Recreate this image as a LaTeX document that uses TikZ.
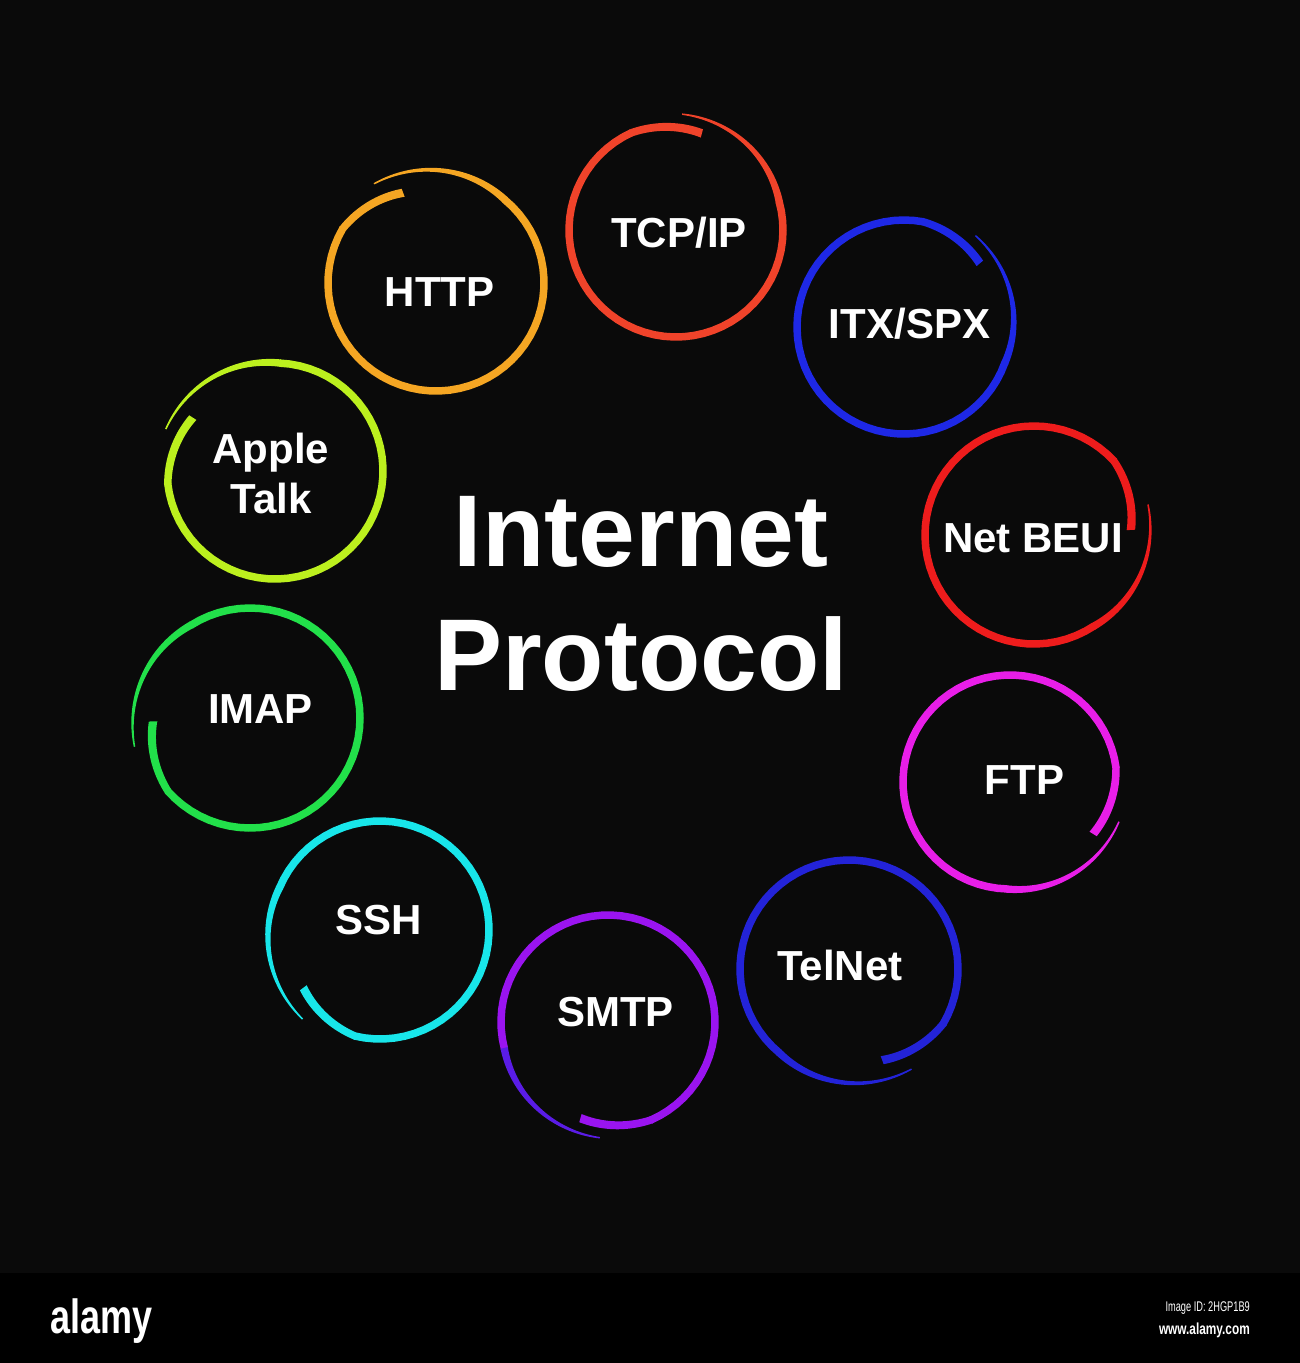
\documentclass[tikz,border=0pt]{standalone}
\usepackage{fontspec}
\setmainfont{Liberation Sans}
\usepackage{graphicx}
\definecolor{bgcol}{HTML}{0A0A0A}
\definecolor{cTCP}{HTML}{F0432A}
\definecolor{cITX}{HTML}{1E28E6}
\definecolor{cNET}{HTML}{EE1C1C}
\definecolor{cFTP}{HTML}{E81EE8}
\definecolor{cTEL}{HTML}{2323D8}
\definecolor{cSMTP}{HTML}{9A14F0}
\definecolor{cSMTPt}{HTML}{5A1CE6}
\definecolor{cSSH}{HTML}{18E6EA}
\definecolor{cIMAP}{HTML}{22E04A}
\definecolor{cAPP}{HTML}{BCF01E}
\definecolor{cHTTP}{HTML}{F5A623}
% filled brush segment: cx, cy, r0, r1, w0, w1, a0, a1, colour
\newcommand\brushseg[9]{%
  \fill[#9] plot[variable=\t,domain=#7:#8,samples=50]
    ({#1+(#3+(#4-#3)*(\t-(#7))/((#8)-(#7))+(#5+(#6-#5)*(\t-(#7))/((#8)-(#7)))/2)*cos(\t)},
     {-#2+(#3+(#4-#3)*(\t-(#7))/((#8)-(#7))+(#5+(#6-#5)*(\t-(#7))/((#8)-(#7)))/2)*sin(\t)})
    -- plot[variable=\t,domain=#8:#7,samples=50]
    ({#1+(#3+(#4-#3)*(\t-(#7))/((#8)-(#7))-(#5+(#6-#5)*(\t-(#7))/((#8)-(#7)))/2)*cos(\t)},
     {-#2+(#3+(#4-#3)*(\t-(#7))/((#8)-(#7))-(#5+(#6-#5)*(\t-(#7))/((#8)-(#7)))/2)*sin(\t)})
    -- cycle;}
% hand-drawn ring: cx, cy, start angle, start radius, radius, colour, tail colour
\newcommand\ringstroke[7]{%
  \pgfmathsetmacro\rsA{#3}%
  \pgfmathsetmacro\rsB{#3+40}%
  \pgfmathsetmacro\rsC{#3+300}%
  \pgfmathsetmacro\rsD{#3+372}%
  \pgfmathsetmacro\rsT{#5+9}%
  \brushseg{#1}{#2}{#4}{#5}{8.5}{7.5}{\rsA}{\rsB}{#6}%
  \brushseg{#1}{#2}{#5}{#5}{7.5}{7.5}{\rsB-0.5}{\rsC+0.5}{#6}%
  \brushseg{#1}{#2}{#5}{\rsT}{7.5}{1.5}{\rsC}{\rsD}{#7}%
}
\begin{document}
\begin{tikzpicture}[x=1pt,y=1pt,
  lbl/.style={text=white,font=\bfseries\fontsize{42}{50}\selectfont,inner sep=0pt,anchor=base},
  titlefont/.style={text=white,font=\bfseries\fontsize{102}{124}\selectfont,inner sep=0pt,align=center}]
\useasboundingbox (0,0) rectangle (1300,-1363);
\fill[bgcol] (0,0) rectangle (1300,-1273);
\fill[black] (0,-1273) rectangle (1300,-1363);

% rings
\ringstroke{676}{230}{75}{100}{107}{cTCP}{cTCP}
\ringstroke{904}{327}{40}{99}{107}{cITX}{cITX}
\ringstroke{1034}{535}{3}{97}{109}{cNET}{cNET}
\ringstroke{1010}{782}{-32}{98}{107}{cFTP}{cFTP}
\ringstroke{849}{969}{-70}{97}{109}{cTEL}{cTEL}
\ringstroke{608}{1022}{-106}{100}{107}{cSMTP}{cSMTPt}
\ringstroke{380}{930}{-143}{96}{109}{cSSH}{cSSH}
\ringstroke{250}{718}{182}{97}{110}{cIMAP}{cIMAP}
\ringstroke{275}{471}{147}{98}{108}{cAPP}{cAPP}
\ringstroke{436}{283}{110}{96}{108}{cHTTP}{cHTTP}

% labels
\node[lbl] (tcp) at (679,-247) {TCP/IP};
\node[lbl] (itx) at (909.5,-338) {ITX/SPX};
\node[lbl] (netbeui) at (1033,-552) {Net BEUI};
\node[lbl] (ftp) at (1024.5,-794) {FTP};
\node[lbl] (telnet) at (840,-980) {TelNet};
\node[lbl] (smtp) at (615.5,-1026) {SMTP};
\node[lbl] (ssh) at (378.5,-934) {SSH};
\node[lbl] (imap) at (260.5,-723) {IMAP};
\node[lbl,anchor=center,align=center] (appletalk) at (271,-473) {Apple\\Talk};
\node[lbl] (http) at (439.5,-306) {HTTP};

% title
\node[titlefont] (title) at (641,-594) {Internet\\Protocol};

% bottom band
\node[anchor=base west,text=white,inner sep=0pt,font=\bfseries\fontsize{48}{48}\selectfont] (logo) at (50,-1333) {\scalebox{0.75}[1]{alamy}};
\node[anchor=base east,text=white,inner sep=0pt,font=\fontsize{14}{14}\selectfont] (imgid) at (1250,-1311) {\scalebox{0.66}[1]{Image ID: 2HGP1B9}};
\node[anchor=base east,text=white,inner sep=0pt,font=\bfseries\fontsize{16}{16}\selectfont] (www) at (1250,-1334) {\scalebox{0.74}[1]{www.alamy.com}};
\end{tikzpicture}
\end{document}
